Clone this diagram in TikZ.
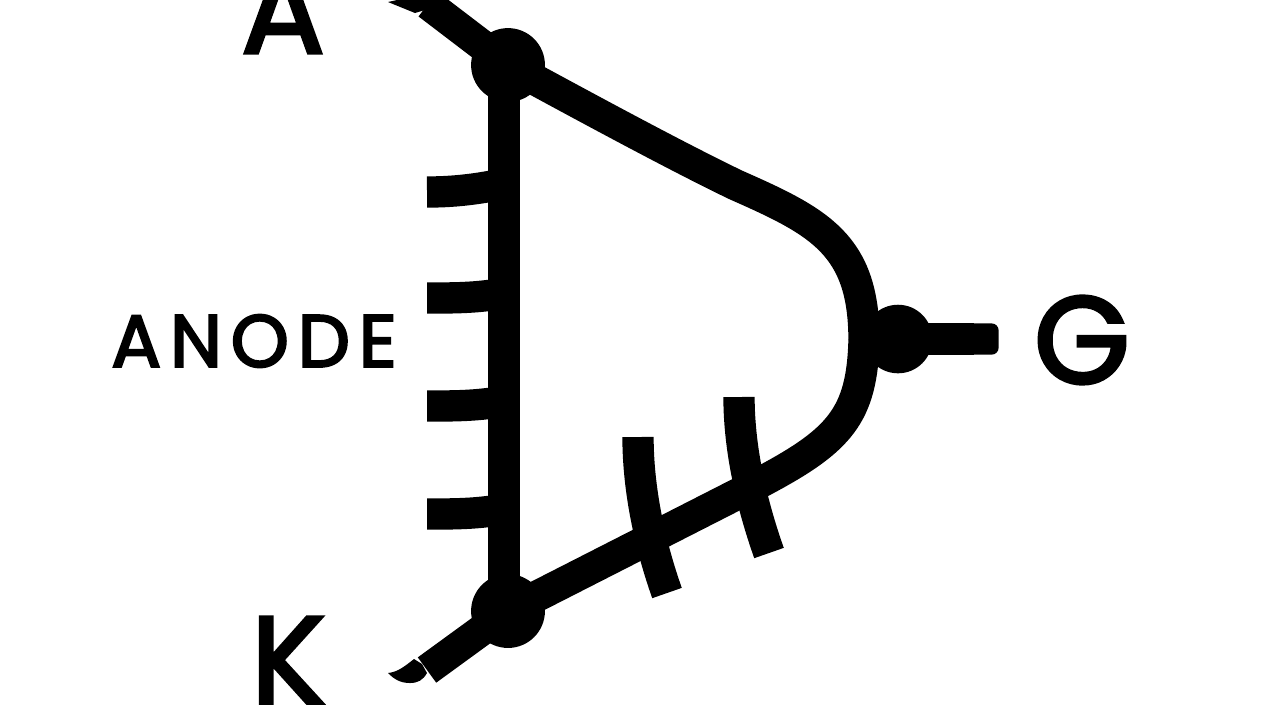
\documentclass[tikz,border=0pt]{standalone}
\usepackage{fontspec}
\newfontfamily\labelfont[RawFeature={embolden=3}]{Poppins}
\newfontfamily\anodefont[RawFeature={embolden=3},LetterSpace=12]{Poppins}
\tikzset{
  wire/.style={line width=8.9pt, black},
  dot/.style={circle, fill=black, inner sep=0pt, minimum size=#1},
  letter/.style={inner sep=0pt, black, font=\labelfont\fontsize{35}{35}\selectfont},
}
\begin{document}
\begin{tikzpicture}[x=0.01cm, y=-0.01cm]
	\useasboundingbox (0,0) rectangle (1280,720);
	\node[dot=21pt] (ja) at (508,65) {};
	\node[dot=21pt] (jk) at (508,611) {};
	\node[dot=19.5pt] (jg) at (898,339) {};
	\coordinate (nose) at (864,340);
	\coordinate (aend) at (428,4);
	\coordinate (kend) at (427,670);
	\node[fill=black, rounded corners=2pt, minimum width=14pt, minimum height=8.9pt, inner sep=0pt] (gend) at (974,339) {};
	% body
	\draw[wire] (504,65) -- (504,611);
	\draw[wire] (ja.center) .. controls (600,115) and (680,158) .. (736,185) .. controls (820,222) and (864,245) .. (nose);
	\draw[wire] (nose) .. controls (862,415) and (840,440) .. (763,481) -- (jk.center);
	% leads
	\draw[wire] (ja.center) -- (aend);
	\draw[wire] (jk.center) -- (kend);
	\draw[wire] (jg.center) -- (gend.center);
	\fill (388,2) -- (397,0) -- (432,0) -- (425,10) -- (415,13) -- cycle;
	\fill (388,673) .. controls (398,672) and (405,666) .. (414,659) -- (422,664) -- (427,673) .. controls (423,680) and (418,683) .. (410,683) .. controls (400,683) and (394,679) .. (388,673) -- cycle;
	% anode teeth
	\draw[wire] (427,192) .. controls (450,192) and (470,190) .. (492,186);
	\foreach \y in {298,406,514}
		\draw[wire] (427,\y) .. controls (450,\y) and (470,\y) .. (492,\y-3);
	% hatch marks
	\draw[wire] (638,437) .. controls (638,490) and (650,545) .. (667,593);
	\draw[wire] (739,397) .. controls (739,450) and (752,505) .. (769,553);
	% labels
	\node[letter] (la) at (283,10) {A};
	\node[letter] (lk) at (288,660) {K};
	\node[letter] (lg) at (1082,340) {G};
	\node[letter, font=\anodefont\fontsize{21}{21}\selectfont] (lanode) at (254,341) {ANODE};
\end{tikzpicture}
\end{document}
